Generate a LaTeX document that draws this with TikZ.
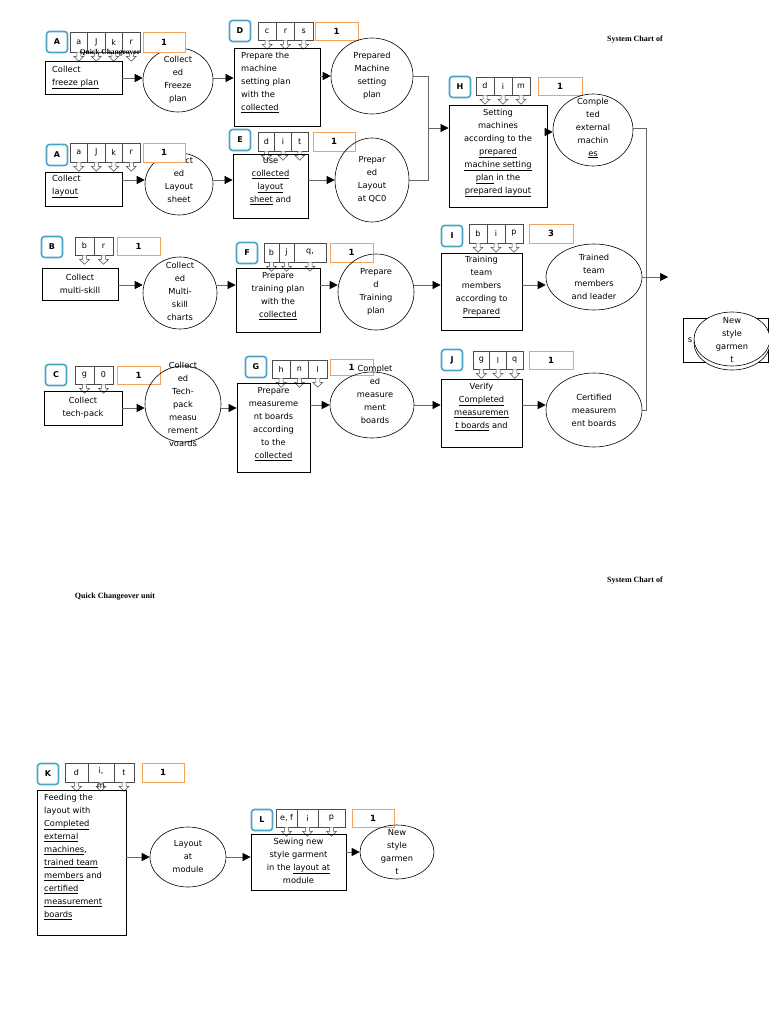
\documentclass[tikz,border=0pt]{standalone}
\usepackage{fontspec}
\setmainfont{DejaVu Sans}
\newfontfamily\serifb{Liberation Serif}
\usetikzlibrary{arrows.meta,shapes.geometric,calc}
\definecolor{bcyan}{HTML}{4BA6C4}
\definecolor{bor}{HTML}{F2A25C}
\tikzset{
  x=1pt,y=-1pt,
  box/.style={draw,line width=0.8pt,inner sep=0pt},
  ell/.style={draw,ellipse,line width=0.6pt,inner sep=0pt},
  txt/.style={align=center,inner sep=0pt,font=\fontsize{8.3}{13}\selectfont},
  ltxt/.style={align=left,inner sep=0pt,font=\fontsize{8.3}{13}\selectfont},
  badge/.style={draw=bcyan,line width=1.6pt,rounded corners=3pt,minimum width=21pt,minimum height=21pt,inner sep=0pt,font=\bfseries\fontsize{8}{9}\selectfont,fill=white},
  tagbox/.style={draw=black!70,line width=0.6pt,inner sep=0pt,fill=white,font=\fontsize{8}{9}\selectfont},
  numbox/.style={draw=bor,line width=0.9pt,inner sep=0pt,fill=white,font=\bfseries\fontsize{8.5}{9}\selectfont},
  arr/.style={draw=black!60,line width=0.7pt,-{Triangle[length=8pt,width=8pt,fill=black,color=black]}},
  ln/.style={draw=black!60,line width=0.7pt},
  title/.style={font=\serifb\bfseries\fontsize{8}{9}\selectfont,inner sep=0pt}
}
% \tagb{name}{xleft}{width}{ytop}{ybottom}{label}
\newcommand\tagb[6]{%
  \node[tagbox,minimum width=#3pt,minimum height={#5-#4}] (#1) at ({#2+#3/2},{(#4+#5)/2}) {#6};
  \draw[fill=white,line width=0.5pt,draw=black!70] ($(#1.south)+(-2,0)$) -- ++(0,4) -- ++(-3,0) -- ++(5,5) -- ++(5,-5) -- ++(-3,0) -- ++(0,-4);
}
% \numb{name}{xleft}{xright}{ytop}{ybot}{label}
\newcommand\numb[6]{\node[numbox,minimum width={#3-#2},minimum height={#5-#4}] (#1) at ({(#2+#3)/2},{(#4+#5)/2}) {#6};}
\newcommand\rbox[5]{\node[box,minimum width={#3-#2},minimum height={#5-#4}] (#1) at ({(#2+#3)/2},{(#4+#5)/2}) {};}
\newcommand\rell[5]{\node[ell,minimum width={2*#4},minimum height={2*#5}] (#1) at (#2,#3) {};}
\begin{document}
\begin{tikzpicture}
\useasboundingbox[fill=white] (0,0) rectangle (768,1024);

% titles
\node[title] (t1) at (635,40) {System Chart of};
\node[title] (t2) at (635,581) {System Chart of};
\node[title] (t3) at (115,597) {Quick Changeover unit};

% ---------- Row 1
\node[badge] (bA1) at (57,42) {A};
\tagb{a1a}{70}{17.5}{32}{52}{a}\tagb{a1b}{87.5}{17.5}{32}{52}{J}\tagb{a1c}{105}{17.5}{32}{52}{k}\tagb{a1d}{122.5}{17.5}{32}{52}{r}
\node[title,font=\serifb\bfseries\fontsize{7.5}{8}\selectfont] (qc) at (110,53) {Quick Changeover};
\rbox{pA1}{45}{122}{61}{94}
\node[ltxt,anchor=north west] (tA1) at (52,66) {Collect\\\underline{freeze plan}};
\rell{e1}{178}{80}{35}{32}
\node[txt] (te1) at (178,80) {Collect\\ed\\Freeze\\plan};
\numb{n1}{143}{185}{32}{52}{1}

\node[badge] (bD) at (240,31) {D};
\tagb{dA}{258}{18.3}{22}{40}{c}\tagb{dB}{276.3}{18.3}{22}{40}{r}\tagb{dC}{294.6}{18.3}{22}{40}{s}
\numb{nD}{315}{358}{22}{40}{1}
\rbox{pD}{234}{320}{48}{126}
\node[ltxt,anchor=north west] (tD) at (241,52) {Prepare the\\machine\\setting plan\\with the\\\underline{collected}};
\rell{eD}{372}{76}{41}{38}
\node[txt] (teD) at (372,76) {Prepared\\Machine\\setting\\plan};

% ---------- Row 2
\node[badge] (bA2) at (57,155) {A};
\tagb{a2a}{70}{17.5}{143}{162}{a}\tagb{a2b}{87.5}{17.5}{143}{162}{J}\tagb{a2c}{105}{17.5}{143}{162}{k}\tagb{a2d}{122.5}{17.5}{143}{162}{r}
\rbox{pA2}{45}{122}{172}{206}
\node[ltxt,anchor=north west] (tA2) at (52,175) {Collect\\\underline{layout}};
\rell{e2}{179}{184}{34}{31}
\node[txt] (te2) at (179,180) {Collect\\ed\\Layout\\sheet};
\numb{n2}{143}{185}{143}{162}{1}

\node[badge] (bE) at (240,140) {E};
\tagb{eA}{258}{16.7}{132}{151}{d}\tagb{eB}{274.7}{16.7}{132}{151}{i}\tagb{eC}{291.4}{16.7}{132}{151}{t}
\numb{nE}{313}{355}{132}{151}{1}
\rbox{pE}{233}{308}{154}{218}
\node[txt,anchor=north] (tE) at (270.5,157) {Use\\\underline{collected}\\\underline{layout}\\\underline{sheet} and};
\rell{eE}{372}{180}{37}{42}
\node[txt] (teE) at (372,180) {Prepar\\ed\\Layout\\at QC0};

% ---------- H
\node[badge] (bH) at (460,87) {H};
\tagb{hA}{476}{18}{77}{95}{d}\tagb{hB}{494}{18}{77}{95}{i}\tagb{hC}{512}{18}{77}{95}{m}
\numb{nH}{538}{582}{77}{95}{1}
\rbox{pH}{449}{547}{105}{207}
\node[txt,anchor=north] (tH) at (498,109) {Setting\\machines\\according to the\\\underline{prepared}\\\underline{machine setting}\\\underline{plan} in the\\\underline{prepared layout}};
\rell{eH}{593}{130}{40}{36}
\node[txt] (teH) at (593,128) {Comple\\ted\\external\\machin\\\underline{es}};

% ---------- Row 3
\node[badge] (bB) at (52,247) {B};
\tagb{bA}{75}{19}{237}{255}{b}\tagb{bB2}{94}{19}{237}{255}{r}
\numb{nB}{117}{160}{237}{255}{1}
\rbox{pB}{42}{118}{268}{300}
\node[txt] (tB) at (80,284) {Collect\\multi-skill};
\rell{eB}{180}{293}{37}{36}
\node[txt] (teB) at (180,291) {Collect\\ed\\Multi-\\skill\\charts};

\node[badge] (bF) at (247,253) {F};
\tagb{fA}{264}{15}{243}{262}{b}\tagb{fB}{279}{15}{243}{262}{j}\tagb{fC}{294}{32}{243}{262}{\raisebox{1pt}{q,}}
\numb{nF}{330}{373}{243}{262}{1}
\rbox{pF}{236}{320}{268}{332}
\node[txt,anchor=north] (tF) at (278,272) {Prepare\\training plan\\with the\\\underline{collected}};
\rell{eF}{376}{292}{38}{38}
\node[txt] (teF) at (376,292) {Prepare\\d\\Training\\plan};

\node[badge] (bI) at (452,236) {I};
\tagb{iA}{469}{18}{224}{243}{b}\tagb{iB}{487}{18}{224}{243}{i}\tagb{iC}{505}{18}{224}{243}{p}
\numb{nI}{529}{573}{224}{243}{3}
\rbox{pI}{441}{522}{253}{330}
\node[txt,anchor=north] (tI) at (481.5,256) {Training\\team\\members\\according to\\\underline{Prepared}};
\rell{eI}{594}{277}{48}{33}
\node[txt] (teI) at (594,277) {Trained\\team\\members\\and leader};

% ---------- Row 4
\node[badge] (bC) at (56,375) {C};
\tagb{cA}{75}{19}{366}{384}{g}\tagb{cB}{94}{19}{366}{384}{0}
\numb{nC}{117}{160}{366}{384}{1}
\rbox{pC}{44}{122}{391}{425}
\node[txt] (tC) at (83,408) {Collect\\tech-pack};
\rell{eC}{183}{404}{38}{38}
\node[txt] (teC) at (183,404) {Collect\\ed\\Tech-\\pack\\measu\\rement\\voards};

\node[badge] (bG) at (256,367) {G};
\tagb{gA}{272}{18.3}{360}{378}{h}\tagb{gB}{290.3}{18.3}{360}{378}{n}\tagb{gC}{308.6}{18.3}{360}{378}{l}
\numb{nG}{330}{373}{359}{375}{1}
\rbox{pG}{237}{310}{383}{472}
\node[txt,anchor=north] (tG) at (273.5,387) {Prepare\\measureme\\nt boards\\according\\to the\\\underline{collected}};
\rell{eG}{372}{405}{42}{33}
\node[txt] (teG) at (375,394) {Complet\\ed\\measure\\ment\\boards};

\node[badge] (bJ) at (452,360) {J};
\tagb{jA}{473}{16.7}{351}{369}{g}\tagb{jB}{489.7}{16.7}{351}{369}{l}\tagb{jC}{506.4}{16.7}{351}{369}{q}
\numb{nJ}{529}{573}{351}{369}{1}
\rbox{pJ}{441}{522}{379}{447}
\node[txt,anchor=north] (tJ) at (481.5,383) {Verify\\\underline{Completed}\\\underline{measuremen}\\\underline{t boards} and};
\rell{eJ}{594}{410}{48}{37}
\node[txt] (teJ) at (594,410) {Certified\\measurem\\ent boards};

% right end
\rbox{pR}{683}{768}{318}{362}
\node[txt] (tR) at (690,340) {s};
\node[ell,fill=white,minimum width=76,minimum height=54] (eR2) at (732,343) {};
\node[ell,fill=white,minimum width=76,minimum height=54] (eR) at (732,339) {};
\node[txt] (teR) at (732,340) {New\\style\\garmen\\t};

% ---------- connectors
\draw[arr] (pA1.east |- 0,78) -- (e1.west |- 0,78);
\draw[arr] (e1.east |- 0,78) -- (pD.west |- 0,78);
\draw[arr] (pD.east |- 0,76) -- (eD.west);
\coordinate (j1) at (428,76);
\coordinate (j2) at (428,180);
\coordinate (j3) at (428,128);
\draw[ln] (eD.east) -- (j1) -- (j2) -- (eE.east);
\draw[arr] (j3) -- (pH.west |- j3);
\draw[arr] (pA2.east |- 0,180) -- (e2.west |- 0,180);
\draw[arr] (e2.east |- 0,180) -- (pE.west |- 0,180);
\draw[arr] (pE.east |- 0,180) -- (eE.west);
\draw[arr] (pH.east |- 0,132) -- (eH.west |- 0,132);
\coordinate (k1) at (646,128);
\coordinate (k2) at (646,410);
\coordinate (k3) at (646,277);
\coordinate (k4) at (668,277);
\draw[ln] (eH.east |- k1) -- (k1) -- (k2) -- (eJ.east);
\draw[ln] (eI.east) -- (k3);
\draw[arr] (k3) -- (k4);

\draw[arr] (pB.east |- 0,285) -- (eB.west |- 0,285);
\draw[arr] (eB.east |- 0,285) -- (pF.west |- 0,285);
\draw[arr] (pF.east |- 0,285) -- (eF.west |- 0,285);
\draw[arr] (eF.east |- 0,285) -- (pI.west |- 0,285);
\draw[arr] (pI.east |- 0,285) -- (eI.west |- 0,285);

\draw[arr] (pC.east |- 0,408) -- (eC.west |- 0,408);
\draw[arr] (eC.east |- 0,408) -- (pG.west |- 0,408);
\draw[arr] (pG.east |- 0,405) -- (eG.west);
\draw[arr] (eG.east) -- (pJ.west |- eG.east);
\draw[arr] (pJ.east |- 0,405) -- (eJ.west |- 0,405);

% ---------- bottom
\node[badge] (bK) at (48,774) {K};
\tagb{kA}{65}{23}{763}{782}{d}\tagb{kB}{88}{26}{763}{782}{\raisebox{4pt}{i,}}\tagb{kC}{114}{20}{763}{782}{t}
\node[txt] (km) at (101,786) {m};
\numb{nK}{142}{184}{763}{782}{1}
\rbox{pK}{37}{126}{790}{935}
\node[ltxt,anchor=north west] (tK) at (44,794) {Feeding the\\layout with\\\underline{Completed}\\\underline{external}\\\underline{machines},\\\underline{trained team}\\\underline{members} and\\\underline{certified}\\\underline{measurement}\\\underline{boards}};
\rell{eK}{188}{857}{38}{30}
\node[txt] (teK) at (188,857) {Layout\\at\\module};

\node[badge] (bL) at (262,820) {L};
\tagb{lA}{276}{21}{809}{827}{e, f}\tagb{lB}{297}{21}{809}{827}{i}\tagb{lC}{318}{27}{809}{827}{p}
\numb{nL}{352}{394}{809}{827}{1}
\rbox{pL}{251}{346}{834}{890}
\node[txt,anchor=north] (tL) at (298.5,838) {Sewing new\\style garment\\in the \underline{layout at}\\module};
\rell{eL}{397}{852}{37}{27}
\node[txt] (teL) at (397,852) {New\\style\\garmen\\t};

\draw[arr] (pK.east |- 0,857) -- (eK.west);
\draw[arr] (eK.east) -- (pL.west |- eK.east);
\draw[arr] (pL.east |- 0,852) -- (eL.west);
\end{tikzpicture}
\end{document}
